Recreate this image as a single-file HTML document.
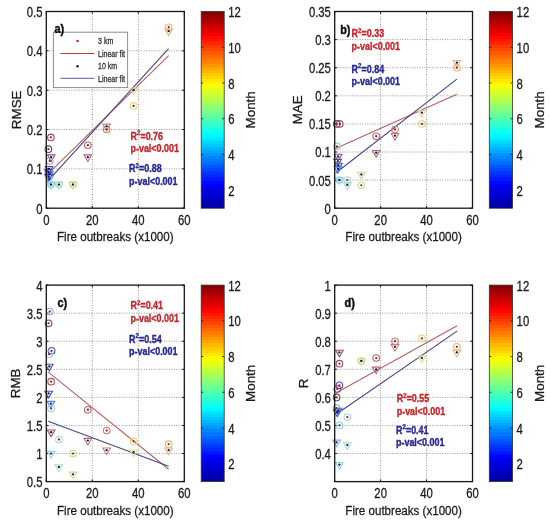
<!DOCTYPE html>
<html><head><meta charset="utf-8"><title>Figure</title>
<style>html,body{margin:0;padding:0;background:#fff;}svg{display:block;}text{font-family:"Liberation Sans",Arial,sans-serif;}</style>
</head><body>
<svg width="550" height="522" viewBox="0 0 550 522">
<defs><linearGradient id="jet" x1="0" y1="1" x2="0" y2="0"><stop offset="0.000%" stop-color="#0000a4"/><stop offset="1.562%" stop-color="#0000a4"/><stop offset="1.562%" stop-color="#0000b0"/><stop offset="3.125%" stop-color="#0000b0"/><stop offset="3.125%" stop-color="#0000bc"/><stop offset="4.688%" stop-color="#0000bc"/><stop offset="4.688%" stop-color="#0000c8"/><stop offset="6.250%" stop-color="#0000c8"/><stop offset="6.250%" stop-color="#0000d5"/><stop offset="7.812%" stop-color="#0000d5"/><stop offset="7.812%" stop-color="#0000e1"/><stop offset="9.375%" stop-color="#0000e1"/><stop offset="9.375%" stop-color="#0000ed"/><stop offset="10.938%" stop-color="#0000ed"/><stop offset="10.938%" stop-color="#0000f9"/><stop offset="12.500%" stop-color="#0000f9"/><stop offset="12.500%" stop-color="#0008ff"/><stop offset="14.062%" stop-color="#0008ff"/><stop offset="14.062%" stop-color="#0018ff"/><stop offset="15.625%" stop-color="#0018ff"/><stop offset="15.625%" stop-color="#0028ff"/><stop offset="17.188%" stop-color="#0028ff"/><stop offset="17.188%" stop-color="#0038ff"/><stop offset="18.750%" stop-color="#0038ff"/><stop offset="18.750%" stop-color="#0048ff"/><stop offset="20.312%" stop-color="#0048ff"/><stop offset="20.312%" stop-color="#0058ff"/><stop offset="21.875%" stop-color="#0058ff"/><stop offset="21.875%" stop-color="#0068ff"/><stop offset="23.438%" stop-color="#0068ff"/><stop offset="23.438%" stop-color="#0078ff"/><stop offset="25.000%" stop-color="#0078ff"/><stop offset="25.000%" stop-color="#0087ff"/><stop offset="26.562%" stop-color="#0087ff"/><stop offset="26.562%" stop-color="#0097ff"/><stop offset="28.125%" stop-color="#0097ff"/><stop offset="28.125%" stop-color="#00a7ff"/><stop offset="29.688%" stop-color="#00a7ff"/><stop offset="29.688%" stop-color="#00b7ff"/><stop offset="31.250%" stop-color="#00b7ff"/><stop offset="31.250%" stop-color="#00c7ff"/><stop offset="32.812%" stop-color="#00c7ff"/><stop offset="32.812%" stop-color="#00d7ff"/><stop offset="34.375%" stop-color="#00d7ff"/><stop offset="34.375%" stop-color="#00e7ff"/><stop offset="35.938%" stop-color="#00e7ff"/><stop offset="35.938%" stop-color="#00f7ff"/><stop offset="37.500%" stop-color="#00f7ff"/><stop offset="37.500%" stop-color="#08fff7"/><stop offset="39.062%" stop-color="#08fff7"/><stop offset="39.062%" stop-color="#18ffe7"/><stop offset="40.625%" stop-color="#18ffe7"/><stop offset="40.625%" stop-color="#28ffd7"/><stop offset="42.188%" stop-color="#28ffd7"/><stop offset="42.188%" stop-color="#38ffc7"/><stop offset="43.750%" stop-color="#38ffc7"/><stop offset="43.750%" stop-color="#48ffb7"/><stop offset="45.312%" stop-color="#48ffb7"/><stop offset="45.312%" stop-color="#58ffa7"/><stop offset="46.875%" stop-color="#58ffa7"/><stop offset="46.875%" stop-color="#68ff97"/><stop offset="48.438%" stop-color="#68ff97"/><stop offset="48.438%" stop-color="#78ff87"/><stop offset="50.000%" stop-color="#78ff87"/><stop offset="50.000%" stop-color="#87ff78"/><stop offset="51.562%" stop-color="#87ff78"/><stop offset="51.562%" stop-color="#97ff68"/><stop offset="53.125%" stop-color="#97ff68"/><stop offset="53.125%" stop-color="#a7ff58"/><stop offset="54.688%" stop-color="#a7ff58"/><stop offset="54.688%" stop-color="#b7ff48"/><stop offset="56.250%" stop-color="#b7ff48"/><stop offset="56.250%" stop-color="#c7ff38"/><stop offset="57.812%" stop-color="#c7ff38"/><stop offset="57.812%" stop-color="#d7ff28"/><stop offset="59.375%" stop-color="#d7ff28"/><stop offset="59.375%" stop-color="#e7ff18"/><stop offset="60.938%" stop-color="#e7ff18"/><stop offset="60.938%" stop-color="#f7ff08"/><stop offset="62.500%" stop-color="#f7ff08"/><stop offset="62.500%" stop-color="#fff700"/><stop offset="64.062%" stop-color="#fff700"/><stop offset="64.062%" stop-color="#ffe700"/><stop offset="65.625%" stop-color="#ffe700"/><stop offset="65.625%" stop-color="#ffd700"/><stop offset="67.188%" stop-color="#ffd700"/><stop offset="67.188%" stop-color="#ffc700"/><stop offset="68.750%" stop-color="#ffc700"/><stop offset="68.750%" stop-color="#ffb700"/><stop offset="70.312%" stop-color="#ffb700"/><stop offset="70.312%" stop-color="#ffa700"/><stop offset="71.875%" stop-color="#ffa700"/><stop offset="71.875%" stop-color="#ff9700"/><stop offset="73.438%" stop-color="#ff9700"/><stop offset="73.438%" stop-color="#ff8700"/><stop offset="75.000%" stop-color="#ff8700"/><stop offset="75.000%" stop-color="#ff7800"/><stop offset="76.562%" stop-color="#ff7800"/><stop offset="76.562%" stop-color="#ff6800"/><stop offset="78.125%" stop-color="#ff6800"/><stop offset="78.125%" stop-color="#ff5800"/><stop offset="79.688%" stop-color="#ff5800"/><stop offset="79.688%" stop-color="#ff4800"/><stop offset="81.250%" stop-color="#ff4800"/><stop offset="81.250%" stop-color="#ff3800"/><stop offset="82.812%" stop-color="#ff3800"/><stop offset="82.812%" stop-color="#ff2800"/><stop offset="84.375%" stop-color="#ff2800"/><stop offset="84.375%" stop-color="#ff1800"/><stop offset="85.938%" stop-color="#ff1800"/><stop offset="85.938%" stop-color="#ff0800"/><stop offset="87.500%" stop-color="#ff0800"/><stop offset="87.500%" stop-color="#f70000"/><stop offset="89.062%" stop-color="#f70000"/><stop offset="89.062%" stop-color="#e70000"/><stop offset="90.625%" stop-color="#e70000"/><stop offset="90.625%" stop-color="#d70000"/><stop offset="92.188%" stop-color="#d70000"/><stop offset="92.188%" stop-color="#c70000"/><stop offset="93.750%" stop-color="#c70000"/><stop offset="93.750%" stop-color="#b70000"/><stop offset="95.312%" stop-color="#b70000"/><stop offset="95.312%" stop-color="#a70000"/><stop offset="96.875%" stop-color="#a70000"/><stop offset="96.875%" stop-color="#970000"/><stop offset="98.438%" stop-color="#970000"/><stop offset="98.438%" stop-color="#870000"/><stop offset="100.000%" stop-color="#870000"/></linearGradient></defs>
<rect width="550" height="522" fill="#fff"/>
<path d="M92.30 11.50V208.20 M138.30 11.50V208.20 M46.30 168.86H184.30 M46.30 129.52H184.30 M46.30 90.18H184.30 M46.30 50.84H184.30" stroke="#8a8a8a" stroke-width="0.9" stroke-dasharray="1 1.5" fill="none"/>
<path d="M46.30 208.20v-2.2M46.30 11.50v2.2M92.30 208.20v-2.2M92.30 11.50v2.2M138.30 208.20v-2.2M138.30 11.50v2.2M184.30 208.20v-2.2M184.30 11.50v2.2M46.30 208.20h2.2M184.30 208.20h-2.2M46.30 168.86h2.2M184.30 168.86h-2.2M46.30 129.52h2.2M184.30 129.52h-2.2M46.30 90.18h2.2M184.30 90.18h-2.2M46.30 50.84h2.2M184.30 50.84h-2.2M46.30 11.50h2.2M184.30 11.50h-2.2" stroke="#111" stroke-width="1" fill="none"/>
<line x1="47.30" y1="174.60" x2="168.60" y2="55.60" stroke="#b46060" stroke-width="1.1"/>
<line x1="47.30" y1="181.60" x2="168.60" y2="48.60" stroke="#444488" stroke-width="1.1"/>
<circle cx="48.37" cy="149.19" r="3.3" fill="none" stroke="#50508c" stroke-width="1.1"/>
<circle cx="50.90" cy="137.39" r="3.3" fill="none" stroke="#985060" stroke-width="1.1"/>
<path d="M47.32 154.86H54.94L51.13 161.46Z" fill="none" stroke="#985060" stroke-width="1.1" stroke-linejoin="miter"/>
<circle cx="49.75" cy="160.99" r="3.3" fill="none" stroke="#78b4e0" stroke-width="1.1"/>
<circle cx="48.37" cy="172.01" r="3.3" fill="none" stroke="#5080d8" stroke-width="1.1"/>
<path d="M45.25 166.66H52.87L49.06 173.26Z" fill="none" stroke="#50508c" stroke-width="1.1" stroke-linejoin="miter"/>
<path d="M44.56 169.41H52.18L48.37 176.01Z" fill="none" stroke="#4050c0" stroke-width="1.1" stroke-linejoin="miter"/>
<path d="M45.71 171.77H53.33L49.52 178.37Z" fill="none" stroke="#5080d8" stroke-width="1.1" stroke-linejoin="miter"/>
<path d="M44.79 174.53H52.41L48.60 181.13Z" fill="none" stroke="#4050c0" stroke-width="1.1" stroke-linejoin="miter"/>
<path d="M45.48 176.89H53.10L49.29 183.49Z" fill="none" stroke="#78b4e0" stroke-width="1.1" stroke-linejoin="miter"/>
<circle cx="51.02" cy="184.60" r="3.3" fill="none" stroke="#88d8e0" stroke-width="1.1"/>
<path d="M47.20 182.40H54.83L51.02 189.00Z" fill="none" stroke="#88d8e0" stroke-width="1.1" stroke-linejoin="miter"/>
<circle cx="58.93" cy="184.60" r="3.3" fill="none" stroke="#a0e0c8" stroke-width="1.1"/>
<path d="M55.12 182.40H62.74L58.93 189.00Z" fill="none" stroke="#a0e0c8" stroke-width="1.1" stroke-linejoin="miter"/>
<circle cx="72.98" cy="184.60" r="3.3" fill="none" stroke="#c4e090" stroke-width="1.1"/>
<path d="M69.17 182.40H76.79L72.98 189.00Z" fill="none" stroke="#c4e090" stroke-width="1.1" stroke-linejoin="miter"/>
<circle cx="87.86" cy="145.26" r="3.3" fill="none" stroke="#b06868" stroke-width="1.1"/>
<path d="M84.05 154.86H91.67L87.86 161.46Z" fill="none" stroke="#b06868" stroke-width="1.1" stroke-linejoin="miter"/>
<circle cx="106.67" cy="129.52" r="3.3" fill="none" stroke="#c08070" stroke-width="1.1"/>
<path d="M102.86 124.17H110.49L106.67 130.77Z" fill="none" stroke="#c08070" stroke-width="1.1" stroke-linejoin="miter"/>
<circle cx="133.61" cy="105.92" r="3.3" fill="none" stroke="#e0dc80" stroke-width="1.1"/>
<path d="M129.80 87.98H137.42L133.61 94.58Z" fill="none" stroke="#e0dc80" stroke-width="1.1" stroke-linejoin="miter"/>
<circle cx="168.66" cy="27.24" r="3.3" fill="none" stroke="#e0bc70" stroke-width="1.1"/>
<path d="M164.85 28.97H172.47L168.66 35.57Z" fill="none" stroke="#e0bc70" stroke-width="1.1" stroke-linejoin="miter"/>
<circle cx="48.37" cy="149.19" r="1.15" fill="#d01020"/>
<circle cx="50.90" cy="137.39" r="1.15" fill="#d01020"/>
<circle cx="51.13" cy="157.06" r="1.15" fill="#10107a"/>
<circle cx="49.75" cy="160.99" r="1.15" fill="#d01020"/>
<circle cx="48.37" cy="172.01" r="1.15" fill="#d01020"/>
<circle cx="49.06" cy="168.86" r="1.15" fill="#10107a"/>
<circle cx="48.37" cy="171.61" r="1.15" fill="#10107a"/>
<circle cx="49.52" cy="173.97" r="1.15" fill="#10107a"/>
<circle cx="48.60" cy="176.73" r="1.15" fill="#10107a"/>
<circle cx="49.29" cy="179.09" r="1.15" fill="#10107a"/>
<circle cx="51.02" cy="184.60" r="1.15" fill="#d01020"/>
<circle cx="51.02" cy="184.60" r="1.15" fill="#10107a"/>
<circle cx="58.93" cy="184.60" r="1.15" fill="#d01020"/>
<circle cx="58.93" cy="184.60" r="1.15" fill="#10107a"/>
<circle cx="72.98" cy="184.60" r="1.15" fill="#d01020"/>
<circle cx="72.98" cy="184.60" r="1.15" fill="#10107a"/>
<circle cx="87.86" cy="145.26" r="1.15" fill="#d01020"/>
<circle cx="87.86" cy="157.06" r="1.15" fill="#10107a"/>
<circle cx="106.67" cy="129.52" r="1.15" fill="#d01020"/>
<circle cx="106.67" cy="126.37" r="1.15" fill="#10107a"/>
<circle cx="133.61" cy="105.92" r="1.15" fill="#d01020"/>
<circle cx="133.61" cy="90.18" r="1.15" fill="#10107a"/>
<circle cx="168.66" cy="27.24" r="1.15" fill="#d01020"/>
<circle cx="168.66" cy="31.17" r="1.15" fill="#10107a"/>
<rect x="46.30" y="11.50" width="138.00" height="196.70" fill="none" stroke="#141414" stroke-width="1.3"/>
<text transform="translate(42.50,213.60) scale(0.82,1)" font-size="13.8" text-anchor="end" font-weight="normal" fill="#1c1c1c" stroke="#1c1c1c" stroke-width="0.3">0</text>
<text transform="translate(42.50,174.26) scale(0.82,1)" font-size="13.8" text-anchor="end" font-weight="normal" fill="#1c1c1c" stroke="#1c1c1c" stroke-width="0.3">0.1</text>
<text transform="translate(42.50,134.92) scale(0.82,1)" font-size="13.8" text-anchor="end" font-weight="normal" fill="#1c1c1c" stroke="#1c1c1c" stroke-width="0.3">0.2</text>
<text transform="translate(42.50,95.58) scale(0.82,1)" font-size="13.8" text-anchor="end" font-weight="normal" fill="#1c1c1c" stroke="#1c1c1c" stroke-width="0.3">0.3</text>
<text transform="translate(42.50,56.24) scale(0.82,1)" font-size="13.8" text-anchor="end" font-weight="normal" fill="#1c1c1c" stroke="#1c1c1c" stroke-width="0.3">0.4</text>
<text transform="translate(42.50,16.90) scale(0.82,1)" font-size="13.8" text-anchor="end" font-weight="normal" fill="#1c1c1c" stroke="#1c1c1c" stroke-width="0.3">0.5</text>
<text transform="translate(46.30,224.50) scale(0.82,1)" font-size="13.8" text-anchor="middle" font-weight="normal" fill="#1c1c1c" stroke="#1c1c1c" stroke-width="0.3">0</text>
<text transform="translate(92.30,224.50) scale(0.82,1)" font-size="13.8" text-anchor="middle" font-weight="normal" fill="#1c1c1c" stroke="#1c1c1c" stroke-width="0.3">20</text>
<text transform="translate(138.30,224.50) scale(0.82,1)" font-size="13.8" text-anchor="middle" font-weight="normal" fill="#1c1c1c" stroke="#1c1c1c" stroke-width="0.3">40</text>
<text transform="translate(184.30,224.50) scale(0.82,1)" font-size="13.8" text-anchor="middle" font-weight="normal" fill="#1c1c1c" stroke="#1c1c1c" stroke-width="0.3">60</text>
<text transform="translate(115.30,241.10) scale(0.885,1)" font-size="13.1" text-anchor="middle" font-weight="normal" fill="#1c1c1c" stroke="#1c1c1c" stroke-width="0.3">Fire outbreaks (x1000)</text>
<text transform="translate(20.60,109.85) rotate(-90) scale(1,0.95)" font-size="13.4" text-anchor="middle" fill="#1c1c1c" stroke="#1c1c1c" stroke-width="0.3">RMSE</text>
<rect x="201.20" y="11.50" width="23.00" height="196.70" fill="url(#jet)" stroke="#303030" stroke-width="0.8"/>
<text transform="translate(228.20,195.92) scale(0.82,1)" font-size="13.8" text-anchor="start" font-weight="normal" fill="#1c1c1c" stroke="#1c1c1c" stroke-width="0.3">2</text>
<text transform="translate(228.20,160.15) scale(0.82,1)" font-size="13.8" text-anchor="start" font-weight="normal" fill="#1c1c1c" stroke="#1c1c1c" stroke-width="0.3">4</text>
<text transform="translate(228.20,124.39) scale(0.82,1)" font-size="13.8" text-anchor="start" font-weight="normal" fill="#1c1c1c" stroke="#1c1c1c" stroke-width="0.3">6</text>
<text transform="translate(228.20,88.63) scale(0.82,1)" font-size="13.8" text-anchor="start" font-weight="normal" fill="#1c1c1c" stroke="#1c1c1c" stroke-width="0.3">8</text>
<text transform="translate(228.20,52.86) scale(0.82,1)" font-size="13.8" text-anchor="start" font-weight="normal" fill="#1c1c1c" stroke="#1c1c1c" stroke-width="0.3">10</text>
<text transform="translate(228.20,17.10) scale(0.82,1)" font-size="13.8" text-anchor="start" font-weight="normal" fill="#1c1c1c" stroke="#1c1c1c" stroke-width="0.3">12</text>
<path d="M201.20 190.32h2M224.20 190.32h-2M201.20 154.55h2M224.20 154.55h-2M201.20 118.79h2M224.20 118.79h-2M201.20 83.03h2M224.20 83.03h-2M201.20 47.26h2M224.20 47.26h-2" stroke="#222" stroke-width="0.9" fill="none"/>
<text transform="translate(255.20,109.85) rotate(-90) scale(1,0.95)" font-size="13.4" text-anchor="middle" fill="#1c1c1c" stroke="#1c1c1c" stroke-width="0.3">Month</text>
<rect x="53.4" y="32.2" width="74.20" height="55.40" fill="#fff" stroke="#8c8c8c" stroke-width="1"/>
<circle cx="77.5" cy="41" r="1.2" fill="#d01020"/>
<circle cx="77.5" cy="66.2" r="1.2" fill="#10107a"/>
<line x1="60.4" y1="53.5" x2="94.3" y2="53.5" stroke="#b04040" stroke-width="1.2"/>
<line x1="60.4" y1="78.4" x2="94.3" y2="78.4" stroke="#7a84aa" stroke-width="1.3"/>
<text transform="translate(98.00,44.10) scale(0.82,1)" font-size="8.6" text-anchor="start" font-weight="normal" fill="#333" stroke="#333" stroke-width="0.3">3 km</text>
<text transform="translate(98.00,56.60) scale(0.82,1)" font-size="8.6" text-anchor="start" font-weight="normal" fill="#333" stroke="#333" stroke-width="0.3">Linear fit</text>
<text transform="translate(98.00,69.40) scale(0.82,1)" font-size="8.6" text-anchor="start" font-weight="normal" fill="#333" stroke="#333" stroke-width="0.3">10 km</text>
<text transform="translate(98.00,81.50) scale(0.82,1)" font-size="8.6" text-anchor="start" font-weight="normal" fill="#333" stroke="#333" stroke-width="0.3">Linear fit</text>
<text transform="translate(54.40,33.40) scale(0.84,1)" font-size="13" text-anchor="start" font-weight="bold" fill="#111" stroke="#111" stroke-width="0.5">a)</text>
<text transform="translate(130.50,139.60) scale(0.895,1)" font-size="10" font-weight="bold" fill="#c0282d" stroke="#c0282d" stroke-width="0.35">R<tspan font-size="7" dy="-4.6">2</tspan><tspan dy="4.6">=0.76</tspan></text>
<text transform="translate(130.50,151.90) scale(0.895,1)" font-size="10" font-weight="bold" fill="#c0282d" stroke="#c0282d" stroke-width="0.35">p-val&lt;0.001</text>
<text transform="translate(129.10,172.20) scale(0.895,1)" font-size="10" font-weight="bold" fill="#262890" stroke="#262890" stroke-width="0.35">R<tspan font-size="7" dy="-4.6">2</tspan><tspan dy="4.6">=0.88</tspan></text>
<text transform="translate(129.10,184.50) scale(0.895,1)" font-size="10" font-weight="bold" fill="#262890" stroke="#262890" stroke-width="0.35">p-val&lt;0.001</text>
<path d="M380.63 11.50V208.20 M426.57 11.50V208.20 M334.70 180.10H472.50 M334.70 152.00H472.50 M334.70 123.90H472.50 M334.70 95.80H472.50 M334.70 67.70H472.50 M334.70 39.60H472.50" stroke="#8a8a8a" stroke-width="0.9" stroke-dasharray="1 1.5" fill="none"/>
<path d="M334.70 208.20v-2.2M334.70 11.50v2.2M380.63 208.20v-2.2M380.63 11.50v2.2M426.57 208.20v-2.2M426.57 11.50v2.2M472.50 208.20v-2.2M472.50 11.50v2.2M334.70 208.20h2.2M472.50 208.20h-2.2M334.70 180.10h2.2M472.50 180.10h-2.2M334.70 152.00h2.2M472.50 152.00h-2.2M334.70 123.90h2.2M472.50 123.90h-2.2M334.70 95.80h2.2M472.50 95.80h-2.2M334.70 67.70h2.2M472.50 67.70h-2.2M334.70 39.60h2.2M472.50 39.60h-2.2M334.70 11.50h2.2M472.50 11.50h-2.2" stroke="#111" stroke-width="1" fill="none"/>
<line x1="335.60" y1="148.60" x2="456.90" y2="94.30" stroke="#b46060" stroke-width="1.1"/>
<line x1="336.00" y1="172.80" x2="456.90" y2="79.10" stroke="#444488" stroke-width="1.1"/>
<circle cx="336.77" cy="123.90" r="3.3" fill="none" stroke="#50508c" stroke-width="1.1"/>
<circle cx="339.75" cy="123.90" r="3.3" fill="none" stroke="#985060" stroke-width="1.1"/>
<circle cx="337.00" cy="146.38" r="3.3" fill="none" stroke="#88d8e0" stroke-width="1.1"/>
<path d="M334.33 154.30H341.96L338.14 160.90Z" fill="none" stroke="#985060" stroke-width="1.1" stroke-linejoin="miter"/>
<path d="M333.88 159.35H341.50L337.69 165.95Z" fill="none" stroke="#50508c" stroke-width="1.1" stroke-linejoin="miter"/>
<path d="M334.56 163.29H342.19L338.37 169.89Z" fill="none" stroke="#4050c0" stroke-width="1.1" stroke-linejoin="miter"/>
<path d="M334.10 166.66H341.73L337.92 173.26Z" fill="none" stroke="#5080d8" stroke-width="1.1" stroke-linejoin="miter"/>
<circle cx="339.41" cy="180.10" r="3.3" fill="none" stroke="#88d8e0" stroke-width="1.1"/>
<path d="M335.60 177.90H343.22L339.41 184.50Z" fill="none" stroke="#88d8e0" stroke-width="1.1" stroke-linejoin="miter"/>
<circle cx="347.31" cy="180.10" r="3.3" fill="none" stroke="#a0e0c8" stroke-width="1.1"/>
<path d="M343.50 182.68H351.12L347.31 189.28Z" fill="none" stroke="#a0e0c8" stroke-width="1.1" stroke-linejoin="miter"/>
<path d="M357.53 172.28H365.15L361.34 178.88Z" fill="none" stroke="#c4e090" stroke-width="1.1" stroke-linejoin="miter"/>
<circle cx="361.34" cy="185.33" r="3.3" fill="none" stroke="#c4e090" stroke-width="1.1"/>
<circle cx="376.20" cy="136.26" r="3.3" fill="none" stroke="#b06868" stroke-width="1.1"/>
<path d="M372.39 150.53H380.01L376.20 157.13Z" fill="none" stroke="#b06868" stroke-width="1.1" stroke-linejoin="miter"/>
<circle cx="394.99" cy="129.52" r="3.3" fill="none" stroke="#c08070" stroke-width="1.1"/>
<path d="M391.18 133.50H398.80L394.99 140.10Z" fill="none" stroke="#c08070" stroke-width="1.1" stroke-linejoin="miter"/>
<circle cx="421.88" cy="123.90" r="3.3" fill="none" stroke="#e0dc80" stroke-width="1.1"/>
<path d="M418.07 110.46H425.69L421.88 117.06Z" fill="none" stroke="#e0dc80" stroke-width="1.1" stroke-linejoin="miter"/>
<circle cx="456.88" cy="67.70" r="3.3" fill="none" stroke="#e0bc70" stroke-width="1.1"/>
<path d="M453.07 60.44H460.69L456.88 67.04Z" fill="none" stroke="#e0bc70" stroke-width="1.1" stroke-linejoin="miter"/>
<circle cx="336.77" cy="123.90" r="1.15" fill="#d01020"/>
<circle cx="339.75" cy="123.90" r="1.15" fill="#d01020"/>
<circle cx="337.00" cy="146.38" r="1.15" fill="#d01020"/>
<circle cx="338.14" cy="156.50" r="1.15" fill="#10107a"/>
<circle cx="337.69" cy="161.55" r="1.15" fill="#10107a"/>
<circle cx="338.37" cy="165.49" r="1.15" fill="#10107a"/>
<circle cx="337.92" cy="168.86" r="1.15" fill="#10107a"/>
<circle cx="339.41" cy="180.10" r="1.15" fill="#d01020"/>
<circle cx="339.41" cy="180.10" r="1.15" fill="#10107a"/>
<circle cx="347.31" cy="180.10" r="1.15" fill="#d01020"/>
<circle cx="347.31" cy="184.88" r="1.15" fill="#10107a"/>
<circle cx="361.34" cy="174.48" r="1.15" fill="#10107a"/>
<circle cx="361.34" cy="185.33" r="1.15" fill="#d01020"/>
<circle cx="376.20" cy="136.26" r="1.15" fill="#d01020"/>
<circle cx="376.20" cy="152.73" r="1.15" fill="#10107a"/>
<circle cx="394.99" cy="129.52" r="1.15" fill="#d01020"/>
<circle cx="394.99" cy="135.70" r="1.15" fill="#10107a"/>
<circle cx="421.88" cy="123.90" r="1.15" fill="#d01020"/>
<circle cx="421.88" cy="112.66" r="1.15" fill="#10107a"/>
<circle cx="456.88" cy="67.70" r="1.15" fill="#d01020"/>
<circle cx="456.88" cy="62.64" r="1.15" fill="#10107a"/>
<rect x="334.70" y="11.50" width="137.80" height="196.70" fill="none" stroke="#141414" stroke-width="1.3"/>
<text transform="translate(330.90,213.60) scale(0.82,1)" font-size="13.8" text-anchor="end" font-weight="normal" fill="#1c1c1c" stroke="#1c1c1c" stroke-width="0.3">0</text>
<text transform="translate(330.90,185.50) scale(0.82,1)" font-size="13.8" text-anchor="end" font-weight="normal" fill="#1c1c1c" stroke="#1c1c1c" stroke-width="0.3">0.05</text>
<text transform="translate(330.90,157.40) scale(0.82,1)" font-size="13.8" text-anchor="end" font-weight="normal" fill="#1c1c1c" stroke="#1c1c1c" stroke-width="0.3">0.1</text>
<text transform="translate(330.90,129.30) scale(0.82,1)" font-size="13.8" text-anchor="end" font-weight="normal" fill="#1c1c1c" stroke="#1c1c1c" stroke-width="0.3">0.15</text>
<text transform="translate(330.90,101.20) scale(0.82,1)" font-size="13.8" text-anchor="end" font-weight="normal" fill="#1c1c1c" stroke="#1c1c1c" stroke-width="0.3">0.2</text>
<text transform="translate(330.90,73.10) scale(0.82,1)" font-size="13.8" text-anchor="end" font-weight="normal" fill="#1c1c1c" stroke="#1c1c1c" stroke-width="0.3">0.25</text>
<text transform="translate(330.90,45.00) scale(0.82,1)" font-size="13.8" text-anchor="end" font-weight="normal" fill="#1c1c1c" stroke="#1c1c1c" stroke-width="0.3">0.3</text>
<text transform="translate(330.90,16.90) scale(0.82,1)" font-size="13.8" text-anchor="end" font-weight="normal" fill="#1c1c1c" stroke="#1c1c1c" stroke-width="0.3">0.35</text>
<text transform="translate(334.70,224.50) scale(0.82,1)" font-size="13.8" text-anchor="middle" font-weight="normal" fill="#1c1c1c" stroke="#1c1c1c" stroke-width="0.3">0</text>
<text transform="translate(380.63,224.50) scale(0.82,1)" font-size="13.8" text-anchor="middle" font-weight="normal" fill="#1c1c1c" stroke="#1c1c1c" stroke-width="0.3">20</text>
<text transform="translate(426.57,224.50) scale(0.82,1)" font-size="13.8" text-anchor="middle" font-weight="normal" fill="#1c1c1c" stroke="#1c1c1c" stroke-width="0.3">40</text>
<text transform="translate(472.50,224.50) scale(0.82,1)" font-size="13.8" text-anchor="middle" font-weight="normal" fill="#1c1c1c" stroke="#1c1c1c" stroke-width="0.3">60</text>
<text transform="translate(403.60,241.10) scale(0.885,1)" font-size="13.1" text-anchor="middle" font-weight="normal" fill="#1c1c1c" stroke="#1c1c1c" stroke-width="0.3">Fire outbreaks (x1000)</text>
<text transform="translate(302.20,109.85) rotate(-90) scale(1,0.95)" font-size="13.4" text-anchor="middle" fill="#1c1c1c" stroke="#1c1c1c" stroke-width="0.3">MAE</text>
<rect x="489.30" y="11.50" width="23.30" height="196.70" fill="url(#jet)" stroke="#303030" stroke-width="0.8"/>
<text transform="translate(516.60,195.92) scale(0.82,1)" font-size="13.8" text-anchor="start" font-weight="normal" fill="#1c1c1c" stroke="#1c1c1c" stroke-width="0.3">2</text>
<text transform="translate(516.60,160.15) scale(0.82,1)" font-size="13.8" text-anchor="start" font-weight="normal" fill="#1c1c1c" stroke="#1c1c1c" stroke-width="0.3">4</text>
<text transform="translate(516.60,124.39) scale(0.82,1)" font-size="13.8" text-anchor="start" font-weight="normal" fill="#1c1c1c" stroke="#1c1c1c" stroke-width="0.3">6</text>
<text transform="translate(516.60,88.63) scale(0.82,1)" font-size="13.8" text-anchor="start" font-weight="normal" fill="#1c1c1c" stroke="#1c1c1c" stroke-width="0.3">8</text>
<text transform="translate(516.60,52.86) scale(0.82,1)" font-size="13.8" text-anchor="start" font-weight="normal" fill="#1c1c1c" stroke="#1c1c1c" stroke-width="0.3">10</text>
<text transform="translate(516.60,17.10) scale(0.82,1)" font-size="13.8" text-anchor="start" font-weight="normal" fill="#1c1c1c" stroke="#1c1c1c" stroke-width="0.3">12</text>
<path d="M489.30 190.32h2M512.60 190.32h-2M489.30 154.55h2M512.60 154.55h-2M489.30 118.79h2M512.60 118.79h-2M489.30 83.03h2M512.60 83.03h-2M489.30 47.26h2M512.60 47.26h-2" stroke="#222" stroke-width="0.9" fill="none"/>
<text transform="translate(543.60,109.85) rotate(-90) scale(1,0.95)" font-size="13.4" text-anchor="middle" fill="#1c1c1c" stroke="#1c1c1c" stroke-width="0.3">Month</text>
<text transform="translate(340.20,34.20) scale(0.84,1)" font-size="13" text-anchor="start" font-weight="bold" fill="#111" stroke="#111" stroke-width="0.5">b)</text>
<text transform="translate(351.60,37.20) scale(0.895,1)" font-size="10" font-weight="bold" fill="#c0282d" stroke="#c0282d" stroke-width="0.35">R<tspan font-size="7" dy="-4.6">2</tspan><tspan dy="4.6">=0.33</tspan></text>
<text transform="translate(351.60,49.50) scale(0.895,1)" font-size="10" font-weight="bold" fill="#c0282d" stroke="#c0282d" stroke-width="0.35">p-val&lt;0.001</text>
<text transform="translate(351.60,72.50) scale(0.895,1)" font-size="10" font-weight="bold" fill="#262890" stroke="#262890" stroke-width="0.35">R<tspan font-size="7" dy="-4.6">2</tspan><tspan dy="4.6">=0.84</tspan></text>
<text transform="translate(351.60,84.80) scale(0.895,1)" font-size="10" font-weight="bold" fill="#262890" stroke="#262890" stroke-width="0.35">p-val&lt;0.001</text>
<path d="M92.30 285.10V481.60 M138.30 285.10V481.60 M46.30 453.53H184.30 M46.30 425.46H184.30 M46.30 397.39H184.30 M46.30 369.31H184.30 M46.30 341.24H184.30 M46.30 313.17H184.30" stroke="#8a8a8a" stroke-width="0.9" stroke-dasharray="1 1.5" fill="none"/>
<path d="M46.30 481.60v-2.2M46.30 285.10v2.2M92.30 481.60v-2.2M92.30 285.10v2.2M138.30 481.60v-2.2M138.30 285.10v2.2M184.30 481.60v-2.2M184.30 285.10v2.2M46.30 481.60h2.2M184.30 481.60h-2.2M46.30 453.53h2.2M184.30 453.53h-2.2M46.30 425.46h2.2M184.30 425.46h-2.2M46.30 397.39h2.2M184.30 397.39h-2.2M46.30 369.31h2.2M184.30 369.31h-2.2M46.30 341.24h2.2M184.30 341.24h-2.2M46.30 313.17h2.2M184.30 313.17h-2.2M46.30 285.10h2.2M184.30 285.10h-2.2" stroke="#111" stroke-width="1" fill="none"/>
<line x1="48.20" y1="372.10" x2="168.60" y2="469.30" stroke="#b46060" stroke-width="1.1"/>
<line x1="48.20" y1="421.20" x2="168.60" y2="466.30" stroke="#444488" stroke-width="1.1"/>
<circle cx="49.75" cy="311.49" r="3.3" fill="none" stroke="#78b4e0" stroke-width="1.1"/>
<circle cx="48.60" cy="323.28" r="3.3" fill="none" stroke="#50508c" stroke-width="1.1"/>
<circle cx="51.59" cy="350.79" r="3.3" fill="none" stroke="#4050c0" stroke-width="1.1"/>
<circle cx="49.06" cy="354.16" r="3.3" fill="none" stroke="#88d8e0" stroke-width="1.1"/>
<path d="M45.48 364.31H53.10L49.29 370.91Z" fill="none" stroke="#50508c" stroke-width="1.1" stroke-linejoin="miter"/>
<circle cx="51.13" cy="381.67" r="3.3" fill="none" stroke="#985060" stroke-width="1.1"/>
<path d="M44.79 391.26H52.41L48.60 397.86Z" fill="none" stroke="#4050c0" stroke-width="1.1" stroke-linejoin="miter"/>
<path d="M47.09 401.36H54.71L50.90 407.96Z" fill="none" stroke="#5080d8" stroke-width="1.1" stroke-linejoin="miter"/>
<circle cx="51.13" cy="408.61" r="3.3" fill="none" stroke="#88d8e0" stroke-width="1.1"/>
<circle cx="87.86" cy="409.74" r="3.3" fill="none" stroke="#b06868" stroke-width="1.1"/>
<path d="M84.05 438.42H91.67L87.86 445.02Z" fill="none" stroke="#b06868" stroke-width="1.1" stroke-linejoin="miter"/>
<circle cx="106.67" cy="430.51" r="3.3" fill="none" stroke="#c08070" stroke-width="1.1"/>
<path d="M102.86 447.96H110.49L106.67 454.56Z" fill="none" stroke="#c08070" stroke-width="1.1" stroke-linejoin="miter"/>
<path d="M47.32 429.99H54.94L51.13 436.59Z" fill="none" stroke="#985060" stroke-width="1.1" stroke-linejoin="miter"/>
<circle cx="58.93" cy="439.49" r="3.3" fill="none" stroke="#a0e0c8" stroke-width="1.1"/>
<path d="M55.12 464.80H62.74L58.93 471.40Z" fill="none" stroke="#a0e0c8" stroke-width="1.1" stroke-linejoin="miter"/>
<path d="M47.32 451.33H54.94L51.13 457.93Z" fill="none" stroke="#88d8e0" stroke-width="1.1" stroke-linejoin="miter"/>
<circle cx="72.98" cy="453.53" r="3.3" fill="none" stroke="#c4e090" stroke-width="1.1"/>
<path d="M69.17 472.10H76.79L72.98 478.70Z" fill="none" stroke="#c4e090" stroke-width="1.1" stroke-linejoin="miter"/>
<circle cx="133.61" cy="441.40" r="3.3" fill="none" stroke="#e0dc80" stroke-width="1.1"/>
<path d="M129.80 449.93H137.42L133.61 456.52Z" fill="none" stroke="#e0dc80" stroke-width="1.1" stroke-linejoin="miter"/>
<circle cx="168.66" cy="444.21" r="3.3" fill="none" stroke="#e0bc70" stroke-width="1.1"/>
<path d="M164.85 447.96H172.47L168.66 454.56Z" fill="none" stroke="#e0bc70" stroke-width="1.1" stroke-linejoin="miter"/>
<circle cx="49.75" cy="311.49" r="1.15" fill="#d01020"/>
<circle cx="48.60" cy="323.28" r="1.15" fill="#d01020"/>
<circle cx="51.59" cy="350.79" r="1.15" fill="#d01020"/>
<circle cx="49.06" cy="354.16" r="1.15" fill="#d01020"/>
<circle cx="49.29" cy="366.51" r="1.15" fill="#10107a"/>
<circle cx="51.13" cy="381.67" r="1.15" fill="#d01020"/>
<circle cx="48.60" cy="393.46" r="1.15" fill="#10107a"/>
<circle cx="50.90" cy="403.56" r="1.15" fill="#10107a"/>
<circle cx="51.13" cy="408.61" r="1.15" fill="#d01020"/>
<circle cx="87.86" cy="409.74" r="1.15" fill="#d01020"/>
<circle cx="87.86" cy="440.62" r="1.15" fill="#10107a"/>
<circle cx="106.67" cy="430.51" r="1.15" fill="#d01020"/>
<circle cx="106.67" cy="450.16" r="1.15" fill="#10107a"/>
<circle cx="51.13" cy="432.19" r="1.15" fill="#10107a"/>
<circle cx="58.93" cy="439.49" r="1.15" fill="#d01020"/>
<circle cx="58.93" cy="467.00" r="1.15" fill="#10107a"/>
<circle cx="51.13" cy="453.53" r="1.15" fill="#10107a"/>
<circle cx="72.98" cy="453.53" r="1.15" fill="#d01020"/>
<circle cx="72.98" cy="474.30" r="1.15" fill="#10107a"/>
<circle cx="133.61" cy="441.40" r="1.15" fill="#d01020"/>
<circle cx="133.61" cy="452.12" r="1.15" fill="#10107a"/>
<circle cx="168.66" cy="444.21" r="1.15" fill="#d01020"/>
<circle cx="168.66" cy="450.16" r="1.15" fill="#10107a"/>
<rect x="46.30" y="285.10" width="138.00" height="196.50" fill="none" stroke="#141414" stroke-width="1.3"/>
<text transform="translate(42.50,487.00) scale(0.82,1)" font-size="13.8" text-anchor="end" font-weight="normal" fill="#1c1c1c" stroke="#1c1c1c" stroke-width="0.3">0.5</text>
<text transform="translate(42.50,458.93) scale(0.82,1)" font-size="13.8" text-anchor="end" font-weight="normal" fill="#1c1c1c" stroke="#1c1c1c" stroke-width="0.3">1</text>
<text transform="translate(42.50,430.86) scale(0.82,1)" font-size="13.8" text-anchor="end" font-weight="normal" fill="#1c1c1c" stroke="#1c1c1c" stroke-width="0.3">1.5</text>
<text transform="translate(42.50,402.79) scale(0.82,1)" font-size="13.8" text-anchor="end" font-weight="normal" fill="#1c1c1c" stroke="#1c1c1c" stroke-width="0.3">2</text>
<text transform="translate(42.50,374.71) scale(0.82,1)" font-size="13.8" text-anchor="end" font-weight="normal" fill="#1c1c1c" stroke="#1c1c1c" stroke-width="0.3">2.5</text>
<text transform="translate(42.50,346.64) scale(0.82,1)" font-size="13.8" text-anchor="end" font-weight="normal" fill="#1c1c1c" stroke="#1c1c1c" stroke-width="0.3">3</text>
<text transform="translate(42.50,318.57) scale(0.82,1)" font-size="13.8" text-anchor="end" font-weight="normal" fill="#1c1c1c" stroke="#1c1c1c" stroke-width="0.3">3.5</text>
<text transform="translate(42.50,290.50) scale(0.82,1)" font-size="13.8" text-anchor="end" font-weight="normal" fill="#1c1c1c" stroke="#1c1c1c" stroke-width="0.3">4</text>
<text transform="translate(46.30,497.90) scale(0.82,1)" font-size="13.8" text-anchor="middle" font-weight="normal" fill="#1c1c1c" stroke="#1c1c1c" stroke-width="0.3">0</text>
<text transform="translate(92.30,497.90) scale(0.82,1)" font-size="13.8" text-anchor="middle" font-weight="normal" fill="#1c1c1c" stroke="#1c1c1c" stroke-width="0.3">20</text>
<text transform="translate(138.30,497.90) scale(0.82,1)" font-size="13.8" text-anchor="middle" font-weight="normal" fill="#1c1c1c" stroke="#1c1c1c" stroke-width="0.3">40</text>
<text transform="translate(184.30,497.90) scale(0.82,1)" font-size="13.8" text-anchor="middle" font-weight="normal" fill="#1c1c1c" stroke="#1c1c1c" stroke-width="0.3">60</text>
<text transform="translate(115.30,514.50) scale(0.885,1)" font-size="13.1" text-anchor="middle" font-weight="normal" fill="#1c1c1c" stroke="#1c1c1c" stroke-width="0.3">Fire outbreaks (x1000)</text>
<text transform="translate(20.40,383.35) rotate(-90) scale(1,0.95)" font-size="13.4" text-anchor="middle" fill="#1c1c1c" stroke="#1c1c1c" stroke-width="0.3">RMB</text>
<rect x="201.20" y="285.10" width="23.00" height="196.50" fill="url(#jet)" stroke="#303030" stroke-width="0.8"/>
<text transform="translate(228.20,469.34) scale(0.82,1)" font-size="13.8" text-anchor="start" font-weight="normal" fill="#1c1c1c" stroke="#1c1c1c" stroke-width="0.3">2</text>
<text transform="translate(228.20,433.61) scale(0.82,1)" font-size="13.8" text-anchor="start" font-weight="normal" fill="#1c1c1c" stroke="#1c1c1c" stroke-width="0.3">4</text>
<text transform="translate(228.20,397.88) scale(0.82,1)" font-size="13.8" text-anchor="start" font-weight="normal" fill="#1c1c1c" stroke="#1c1c1c" stroke-width="0.3">6</text>
<text transform="translate(228.20,362.15) scale(0.82,1)" font-size="13.8" text-anchor="start" font-weight="normal" fill="#1c1c1c" stroke="#1c1c1c" stroke-width="0.3">8</text>
<text transform="translate(228.20,326.43) scale(0.82,1)" font-size="13.8" text-anchor="start" font-weight="normal" fill="#1c1c1c" stroke="#1c1c1c" stroke-width="0.3">10</text>
<text transform="translate(228.20,290.70) scale(0.82,1)" font-size="13.8" text-anchor="start" font-weight="normal" fill="#1c1c1c" stroke="#1c1c1c" stroke-width="0.3">12</text>
<path d="M201.20 463.74h2M224.20 463.74h-2M201.20 428.01h2M224.20 428.01h-2M201.20 392.28h2M224.20 392.28h-2M201.20 356.55h2M224.20 356.55h-2M201.20 320.83h2M224.20 320.83h-2" stroke="#222" stroke-width="0.9" fill="none"/>
<text transform="translate(255.20,383.35) rotate(-90) scale(1,0.95)" font-size="13.4" text-anchor="middle" fill="#1c1c1c" stroke="#1c1c1c" stroke-width="0.3">Month</text>
<text transform="translate(57.40,307.20) scale(0.84,1)" font-size="13" text-anchor="start" font-weight="bold" fill="#111" stroke="#111" stroke-width="0.5">c)</text>
<text transform="translate(130.50,309.40) scale(0.895,1)" font-size="10" font-weight="bold" fill="#c0282d" stroke="#c0282d" stroke-width="0.35">R<tspan font-size="7" dy="-4.6">2</tspan><tspan dy="4.6">=0.41</tspan></text>
<text transform="translate(130.50,321.70) scale(0.895,1)" font-size="10" font-weight="bold" fill="#c0282d" stroke="#c0282d" stroke-width="0.35">p-val&lt;0.001</text>
<text transform="translate(129.10,342.50) scale(0.895,1)" font-size="10" font-weight="bold" fill="#262890" stroke="#262890" stroke-width="0.35">R<tspan font-size="7" dy="-4.6">2</tspan><tspan dy="4.6">=0.54</tspan></text>
<text transform="translate(129.10,354.80) scale(0.895,1)" font-size="10" font-weight="bold" fill="#262890" stroke="#262890" stroke-width="0.35">p-val&lt;0.001</text>
<path d="M380.63 285.10V481.60 M426.57 285.10V481.60 M334.70 453.53H472.50 M334.70 425.46H472.50 M334.70 397.39H472.50 M334.70 369.31H472.50 M334.70 341.24H472.50 M334.70 313.17H472.50" stroke="#8a8a8a" stroke-width="0.9" stroke-dasharray="1 1.5" fill="none"/>
<path d="M334.70 481.60v-2.2M334.70 285.10v2.2M380.63 481.60v-2.2M380.63 285.10v2.2M426.57 481.60v-2.2M426.57 285.10v2.2M472.50 481.60v-2.2M472.50 285.10v2.2M334.70 453.53h2.2M472.50 453.53h-2.2M334.70 425.46h2.2M472.50 425.46h-2.2M334.70 397.39h2.2M472.50 397.39h-2.2M334.70 369.31h2.2M472.50 369.31h-2.2M334.70 341.24h2.2M472.50 341.24h-2.2M334.70 313.17h2.2M472.50 313.17h-2.2M334.70 285.10h2.2M472.50 285.10h-2.2" stroke="#111" stroke-width="1" fill="none"/>
<line x1="336.00" y1="393.00" x2="457.10" y2="325.80" stroke="#b46060" stroke-width="1.1"/>
<line x1="336.50" y1="414.00" x2="457.10" y2="331.10" stroke="#444488" stroke-width="1.1"/>
<path d="M335.60 350.27H343.22L339.41 356.87Z" fill="none" stroke="#985060" stroke-width="1.1" stroke-linejoin="miter"/>
<circle cx="339.41" cy="363.70" r="3.3" fill="none" stroke="#985060" stroke-width="1.1"/>
<circle cx="361.34" cy="360.89" r="3.3" fill="none" stroke="#c4e090" stroke-width="1.1"/>
<path d="M357.53 358.69H365.15L361.34 365.29Z" fill="none" stroke="#c4e090" stroke-width="1.1" stroke-linejoin="miter"/>
<circle cx="376.20" cy="358.09" r="3.3" fill="none" stroke="#b06868" stroke-width="1.1"/>
<path d="M372.39 367.11H380.01L376.20 373.71Z" fill="none" stroke="#b06868" stroke-width="1.1" stroke-linejoin="miter"/>
<circle cx="394.99" cy="341.24" r="3.3" fill="none" stroke="#c08070" stroke-width="1.1"/>
<path d="M391.18 344.66H398.80L394.99 351.26Z" fill="none" stroke="#c08070" stroke-width="1.1" stroke-linejoin="miter"/>
<circle cx="421.88" cy="338.44" r="3.3" fill="none" stroke="#e0dc80" stroke-width="1.1"/>
<path d="M418.07 355.89H425.69L421.88 362.49Z" fill="none" stroke="#e0dc80" stroke-width="1.1" stroke-linejoin="miter"/>
<circle cx="456.88" cy="346.86" r="3.3" fill="none" stroke="#e0bc70" stroke-width="1.1"/>
<path d="M453.07 350.27H460.69L456.88 356.87Z" fill="none" stroke="#e0bc70" stroke-width="1.1" stroke-linejoin="miter"/>
<circle cx="339.41" cy="385.31" r="3.3" fill="none" stroke="#4050c0" stroke-width="1.1"/>
<circle cx="337.23" cy="388.96" r="3.3" fill="none" stroke="#985060" stroke-width="1.1"/>
<circle cx="336.54" cy="397.39" r="3.3" fill="none" stroke="#50508c" stroke-width="1.1"/>
<circle cx="336.54" cy="408.05" r="3.3" fill="none" stroke="#78b4e0" stroke-width="1.1"/>
<path d="M333.42 410.06H341.04L337.23 416.66Z" fill="none" stroke="#4050c0" stroke-width="1.1" stroke-linejoin="miter"/>
<path d="M334.56 408.38H342.19L338.37 414.98Z" fill="none" stroke="#5080d8" stroke-width="1.1" stroke-linejoin="miter"/>
<circle cx="347.31" cy="417.04" r="3.3" fill="none" stroke="#a0e0c8" stroke-width="1.1"/>
<circle cx="339.41" cy="425.46" r="3.3" fill="none" stroke="#88d8e0" stroke-width="1.1"/>
<path d="M332.73 440.10H340.35L336.54 446.70Z" fill="none" stroke="#78b4e0" stroke-width="1.1" stroke-linejoin="miter"/>
<path d="M343.50 442.91H351.12L347.31 449.51Z" fill="none" stroke="#a0e0c8" stroke-width="1.1" stroke-linejoin="miter"/>
<path d="M335.60 462.56H343.22L339.41 469.16Z" fill="none" stroke="#88d8e0" stroke-width="1.1" stroke-linejoin="miter"/>
<circle cx="339.41" cy="352.47" r="1.15" fill="#10107a"/>
<circle cx="339.41" cy="363.70" r="1.15" fill="#d01020"/>
<circle cx="361.34" cy="360.89" r="1.15" fill="#d01020"/>
<circle cx="361.34" cy="360.89" r="1.15" fill="#10107a"/>
<circle cx="376.20" cy="358.09" r="1.15" fill="#d01020"/>
<circle cx="376.20" cy="369.31" r="1.15" fill="#10107a"/>
<circle cx="394.99" cy="341.24" r="1.15" fill="#d01020"/>
<circle cx="394.99" cy="346.86" r="1.15" fill="#10107a"/>
<circle cx="421.88" cy="338.44" r="1.15" fill="#d01020"/>
<circle cx="421.88" cy="358.09" r="1.15" fill="#10107a"/>
<circle cx="456.88" cy="346.86" r="1.15" fill="#d01020"/>
<circle cx="456.88" cy="352.47" r="1.15" fill="#10107a"/>
<circle cx="339.41" cy="385.31" r="1.15" fill="#d01020"/>
<circle cx="337.23" cy="388.96" r="1.15" fill="#d01020"/>
<circle cx="336.54" cy="397.39" r="1.15" fill="#d01020"/>
<circle cx="336.54" cy="408.05" r="1.15" fill="#d01020"/>
<circle cx="337.23" cy="412.26" r="1.15" fill="#10107a"/>
<circle cx="338.37" cy="410.58" r="1.15" fill="#10107a"/>
<circle cx="347.31" cy="417.04" r="1.15" fill="#d01020"/>
<circle cx="339.41" cy="425.46" r="1.15" fill="#d01020"/>
<circle cx="336.54" cy="442.30" r="1.15" fill="#10107a"/>
<circle cx="347.31" cy="445.11" r="1.15" fill="#10107a"/>
<circle cx="339.41" cy="464.76" r="1.15" fill="#10107a"/>
<rect x="334.70" y="285.10" width="137.80" height="196.50" fill="none" stroke="#141414" stroke-width="1.3"/>
<text transform="translate(330.90,458.93) scale(0.82,1)" font-size="13.8" text-anchor="end" font-weight="normal" fill="#1c1c1c" stroke="#1c1c1c" stroke-width="0.3">0.4</text>
<text transform="translate(330.90,430.86) scale(0.82,1)" font-size="13.8" text-anchor="end" font-weight="normal" fill="#1c1c1c" stroke="#1c1c1c" stroke-width="0.3">0.5</text>
<text transform="translate(330.90,402.79) scale(0.82,1)" font-size="13.8" text-anchor="end" font-weight="normal" fill="#1c1c1c" stroke="#1c1c1c" stroke-width="0.3">0.6</text>
<text transform="translate(330.90,374.71) scale(0.82,1)" font-size="13.8" text-anchor="end" font-weight="normal" fill="#1c1c1c" stroke="#1c1c1c" stroke-width="0.3">0.7</text>
<text transform="translate(330.90,346.64) scale(0.82,1)" font-size="13.8" text-anchor="end" font-weight="normal" fill="#1c1c1c" stroke="#1c1c1c" stroke-width="0.3">0.8</text>
<text transform="translate(330.90,318.57) scale(0.82,1)" font-size="13.8" text-anchor="end" font-weight="normal" fill="#1c1c1c" stroke="#1c1c1c" stroke-width="0.3">0.9</text>
<text transform="translate(330.90,290.50) scale(0.82,1)" font-size="13.8" text-anchor="end" font-weight="normal" fill="#1c1c1c" stroke="#1c1c1c" stroke-width="0.3">1</text>
<text transform="translate(334.70,497.90) scale(0.82,1)" font-size="13.8" text-anchor="middle" font-weight="normal" fill="#1c1c1c" stroke="#1c1c1c" stroke-width="0.3">0</text>
<text transform="translate(380.63,497.90) scale(0.82,1)" font-size="13.8" text-anchor="middle" font-weight="normal" fill="#1c1c1c" stroke="#1c1c1c" stroke-width="0.3">20</text>
<text transform="translate(426.57,497.90) scale(0.82,1)" font-size="13.8" text-anchor="middle" font-weight="normal" fill="#1c1c1c" stroke="#1c1c1c" stroke-width="0.3">40</text>
<text transform="translate(472.50,497.90) scale(0.82,1)" font-size="13.8" text-anchor="middle" font-weight="normal" fill="#1c1c1c" stroke="#1c1c1c" stroke-width="0.3">60</text>
<text transform="translate(403.60,514.50) scale(0.885,1)" font-size="13.1" text-anchor="middle" font-weight="normal" fill="#1c1c1c" stroke="#1c1c1c" stroke-width="0.3">Fire outbreaks (x1000)</text>
<text transform="translate(308.10,383.35) rotate(-90) scale(1,0.95)" font-size="13.4" text-anchor="middle" fill="#1c1c1c" stroke="#1c1c1c" stroke-width="0.3">R</text>
<rect x="489.30" y="285.10" width="23.30" height="196.50" fill="url(#jet)" stroke="#303030" stroke-width="0.8"/>
<text transform="translate(516.60,469.34) scale(0.82,1)" font-size="13.8" text-anchor="start" font-weight="normal" fill="#1c1c1c" stroke="#1c1c1c" stroke-width="0.3">2</text>
<text transform="translate(516.60,433.61) scale(0.82,1)" font-size="13.8" text-anchor="start" font-weight="normal" fill="#1c1c1c" stroke="#1c1c1c" stroke-width="0.3">4</text>
<text transform="translate(516.60,397.88) scale(0.82,1)" font-size="13.8" text-anchor="start" font-weight="normal" fill="#1c1c1c" stroke="#1c1c1c" stroke-width="0.3">6</text>
<text transform="translate(516.60,362.15) scale(0.82,1)" font-size="13.8" text-anchor="start" font-weight="normal" fill="#1c1c1c" stroke="#1c1c1c" stroke-width="0.3">8</text>
<text transform="translate(516.60,326.43) scale(0.82,1)" font-size="13.8" text-anchor="start" font-weight="normal" fill="#1c1c1c" stroke="#1c1c1c" stroke-width="0.3">10</text>
<text transform="translate(516.60,290.70) scale(0.82,1)" font-size="13.8" text-anchor="start" font-weight="normal" fill="#1c1c1c" stroke="#1c1c1c" stroke-width="0.3">12</text>
<path d="M489.30 463.74h2M512.60 463.74h-2M489.30 428.01h2M512.60 428.01h-2M489.30 392.28h2M512.60 392.28h-2M489.30 356.55h2M512.60 356.55h-2M489.30 320.83h2M512.60 320.83h-2" stroke="#222" stroke-width="0.9" fill="none"/>
<text transform="translate(543.60,383.35) rotate(-90) scale(1,0.95)" font-size="13.4" text-anchor="middle" fill="#1c1c1c" stroke="#1c1c1c" stroke-width="0.3">Month</text>
<text transform="translate(344.50,307.30) scale(0.84,1)" font-size="13" text-anchor="start" font-weight="bold" fill="#111" stroke="#111" stroke-width="0.5">d)</text>
<text transform="translate(396.70,402.40) scale(0.895,1)" font-size="10" font-weight="bold" fill="#c0282d" stroke="#c0282d" stroke-width="0.35">R<tspan font-size="7" dy="-4.6">2</tspan><tspan dy="4.6">=0.55</tspan></text>
<text transform="translate(396.70,414.70) scale(0.895,1)" font-size="10" font-weight="bold" fill="#c0282d" stroke="#c0282d" stroke-width="0.35">p-val&lt;0.001</text>
<text transform="translate(396.00,433.50) scale(0.895,1)" font-size="10" font-weight="bold" fill="#262890" stroke="#262890" stroke-width="0.35">R<tspan font-size="7" dy="-4.6">2</tspan><tspan dy="4.6">=0.41</tspan></text>
<text transform="translate(396.00,445.80) scale(0.895,1)" font-size="10" font-weight="bold" fill="#262890" stroke="#262890" stroke-width="0.35">p-val&lt;0.001</text>
</svg>
</body></html>
